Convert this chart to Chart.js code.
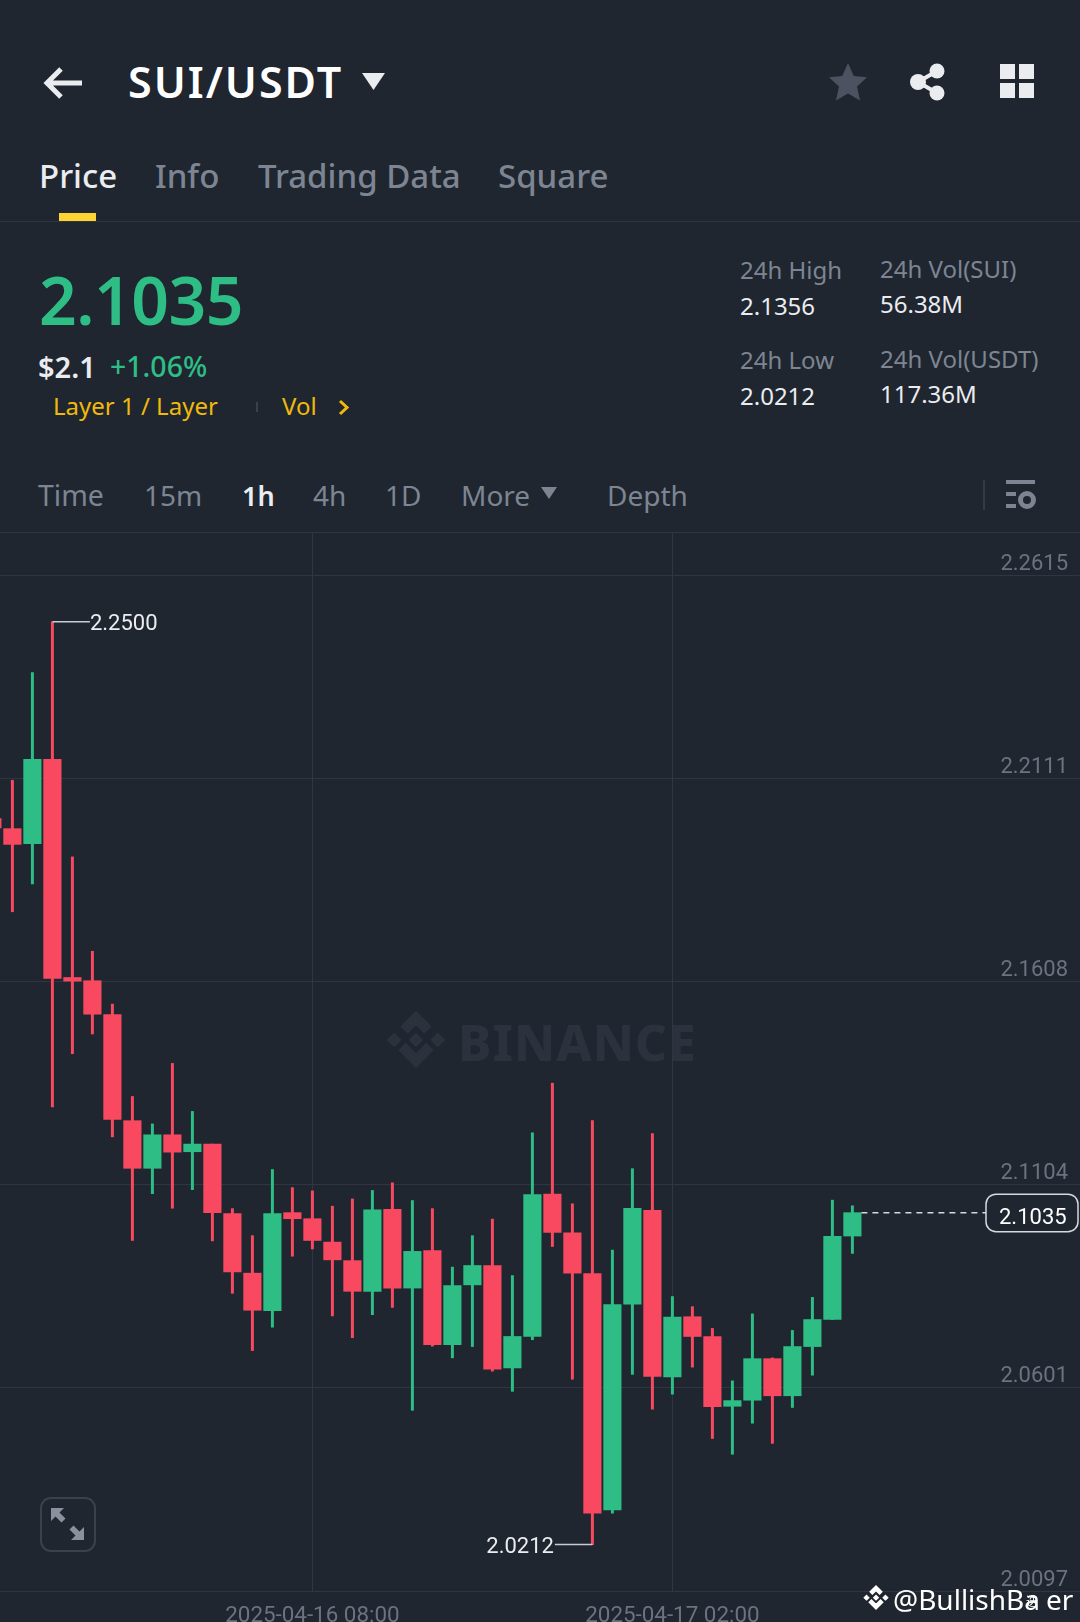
<!DOCTYPE html>
<html lang="en"><head><meta charset="utf-8"><title>SUI/USDT</title>
<script src="https://cdn.jsdelivr.net/npm/chart.js@4"></script>
<style>
html,body{margin:0;padding:0;background:#1f2630;width:1080px;height:1622px;overflow:hidden}
#ui{position:absolute;left:0;top:0;width:1080px;height:1622px;font-family:"Noto Sans",sans-serif}
#chart{position:absolute;left:0;top:0;z-index:2}
.t{position:absolute;white-space:nowrap;transform:translateY(-50%);line-height:1}
.g{color:#7d8592}.w{color:#eaecef}.y{color:#f0b90b}.up{color:#2ebd85}
.hr{position:absolute;left:0;width:1080px;height:1px;background:#2f3641}
svg{position:absolute;overflow:visible}
</style></head><body>
<div id="ui">
  <svg style="left:44px;top:66px" width="40" height="34" viewBox="0 0 40 34"><path d="M17 3L3 17l14 14M4 17h34" fill="none" stroke="#eaecef" stroke-width="5"/></svg>
  <div class="t w" style="left:128px;top:81px;font-size:43px;font-weight:600;color:#fff;letter-spacing:2px">SUI/USDT</div>
  <svg style="left:361px;top:72px" width="25" height="19"><path d="M1 1h23l-11.500 17z" fill="#eaecef"/></svg>
  <svg style="left:828px;top:62px" width="40" height="40" viewBox="0 0 40 40"><path d="M20 1l5.800 13 13.200 1.300-10 9.200 3 14-12-7-12 7 3-14-10-9.200 13.200-1.300z" fill="#4b5260"/></svg>
  <svg style="left:908px;top:62px" width="40" height="40" viewBox="0 0 40 40"><path d="M29 9L10 20l19 11" fill="none" stroke="#eaecef" stroke-width="4"/><circle cx="29" cy="9" r="7.500" fill="#eaecef"/><circle cx="10" cy="20" r="8" fill="#eaecef"/><circle cx="29" cy="31" r="7.500" fill="#eaecef"/></svg>
  <svg style="left:1000px;top:64px" width="35" height="35"><path d="M0 0h15v15H0zM19 0h15v15H19zM0 19h15v15H0zM19 19h15v15H19z" fill="#eaecef"/></svg>

  <div class="t" style="left:39px;top:175px;font-size:33px;font-weight:500;color:#eaecef">Price</div>
  <div class="t g" style="left:155px;top:175px;font-size:33px;font-weight:500">Info</div>
  <div class="t g" style="left:258px;top:175px;font-size:33px;font-weight:500">Trading Data</div>
  <div class="t g" style="left:498px;top:175px;font-size:33px;font-weight:500">Square</div>
  <div style="position:absolute;left:59px;top:213px;width:37px;height:8px;background:#fcd535"></div>
  <div class="hr" style="top:221px"></div>

  <div class="t up" style="left:39px;top:299px;font-size:66px;font-weight:600;letter-spacing:-.5px">2.1035</div>
  <div class="t" style="left:38px;top:366px;font-size:29px;font-weight:600;color:#eaecef">$2.1</div>
  <div class="t up" style="left:110px;top:366px;font-size:28.500px;font-weight:500">+1.06%</div>
  <div class="t y" style="left:53px;top:406px;font-size:24px">Layer 1 / Layer</div>
  <div style="position:absolute;left:256px;top:402px;width:2px;height:10px;background:#3a404c"></div>
  <div class="t y" style="left:282px;top:406px;font-size:24px">Vol</div>
  <svg style="left:338px;top:400px" width="12" height="15"><path d="M2 1l7 6.500-7 6.500" fill="none" stroke="#f0b90b" stroke-width="3"/></svg>

  <div class="t g" style="left:740px;top:270px;font-size:24px">24h High</div>
  <div class="t w" style="left:740px;top:306px;font-size:24px">2.1356</div>
  <div class="t g" style="left:880px;top:269px;font-size:24px">24h Vol(SUI)</div>
  <div class="t w" style="left:880px;top:304px;font-size:24px">56.38M</div>
  <div class="t g" style="left:740px;top:360px;font-size:24px">24h Low</div>
  <div class="t w" style="left:740px;top:396px;font-size:24px">2.0212</div>
  <div class="t g" style="left:880px;top:359px;font-size:24px">24h Vol(USDT)</div>
  <div class="t w" style="left:880px;top:394px;font-size:24px">117.36M</div>

  <div class="t g" style="left:38px;top:495px;font-size:28.500px">Time</div>
  <div class="t g" style="left:144px;top:495px;font-size:28px">15m</div>
  <div class="t" style="left:242px;top:495px;font-size:27px;font-weight:600;color:#eaecef">1h</div>
  <div class="t g" style="left:313px;top:495px;font-size:28px">4h</div>
  <div class="t g" style="left:385px;top:495px;font-size:28px">1D</div>
  <div class="t g" style="left:461px;top:495px;font-size:28px">More</div>
  <svg style="left:541px;top:487px" width="16" height="13"><path d="M0 0h16l-8 12z" fill="#7d8592"/></svg>
  <div class="t g" style="left:607px;top:495px;font-size:28px">Depth</div>
  <div style="position:absolute;left:983px;top:480px;width:2px;height:30px;background:#343a46"></div>
  <svg style="left:1006px;top:479px" width="30" height="32"><path d="M0 1h29v4H0zM0 13h10v4H0zM0 25h10v4H0z" fill="#7d8592"/><circle cx="21" cy="21" r="6.500" fill="none" stroke="#7d8592" stroke-width="5"/></svg>
  <div class="hr" style="top:532px"></div>

  <svg style="left:384px;top:1011px" width="64" height="64" viewBox="0 0 62 62"><path d="M31 2l13 13-5 5-8-8-8 8-5-5zM10 23l5 5-5 5-5-5zM52 23l5 5-5 5-5-5zM31 23l5 5-5 5-5-5zM16 38l5-5 10 10 10-10 5 5-15 15z" fill="#2c323d" stroke="#2c323d" stroke-width="3"/></svg>
  <div class="t" style="left:458px;top:1042px;font-size:50px;font-weight:800;color:#2c323d;letter-spacing:1px">BINANCE</div>

  <svg style="left:40px;top:1497px" width="56" height="55"><rect x="1" y="1" width="54" height="53" rx="10" fill="none" stroke="#3a404c" stroke-width="2"/><path d="M11 11h13l-4.500 4.500 6 6-4 4-6-6L11 24zM44 43H31l4.500-4.500-6-6 4-4 6 6L44 30z" fill="#8a919d"/></svg>

  <svg style="left:862px;top:1585px;z-index:3" width="28" height="28" viewBox="0 0 62 62"><path d="M31 2l13 13-5 5-8-8-8 8-5-5zM10 23l5 5-5 5-5-5zM52 23l5 5-5 5-5-5zM31 23l5 5-5 5-5-5zM16 38l5-5 10 10 10-10 5 5-15 15z" fill="#fff" stroke="#fff" stroke-width="3"/></svg>
  <div class="t" style="left:893px;top:1599px;font-size:28px;color:#fff;z-index:3">@BullishBa</div>
  <div class="t" style="left:1026px;top:1601px;font-size:12px;color:#fff;z-index:3;font-family:'Noto Sans CJK SC'">迭</div>
  <div class="t" style="left:1046px;top:1599px;font-size:28px;color:#fff;z-index:3">er</div>
</div>
<canvas id="chart" width="1080" height="1622"></canvas>
<script>
const categories = ["2025-04-15 16:00","2025-04-15 17:00","2025-04-15 18:00","2025-04-15 19:00","2025-04-15 20:00","2025-04-15 21:00","2025-04-15 22:00","2025-04-15 23:00","2025-04-16 00:00","2025-04-16 01:00","2025-04-16 02:00","2025-04-16 03:00","2025-04-16 04:00","2025-04-16 05:00","2025-04-16 06:00","2025-04-16 07:00","2025-04-16 08:00","2025-04-16 09:00","2025-04-16 10:00","2025-04-16 11:00","2025-04-16 12:00","2025-04-16 13:00","2025-04-16 14:00","2025-04-16 15:00","2025-04-16 16:00","2025-04-16 17:00","2025-04-16 18:00","2025-04-16 19:00","2025-04-16 20:00","2025-04-16 21:00","2025-04-16 22:00","2025-04-16 23:00","2025-04-17 00:00","2025-04-17 01:00","2025-04-17 02:00","2025-04-17 03:00","2025-04-17 04:00","2025-04-17 05:00","2025-04-17 06:00","2025-04-17 07:00","2025-04-17 08:00","2025-04-17 09:00","2025-04-17 10:00","2025-04-17 11:00"];
const opens  = [2.2012,2.1987,2.1950,2.2159,2.1618,2.1610,2.1526,2.1263,2.1145,2.1228,2.1186,2.1205,2.1033,2.0885,2.0792,2.1035,2.1020,2.0962,2.0916,2.0840,2.1043,2.0848,2.0941,2.0708,2.0856,2.0904,2.0650,2.0728,2.1081,2.0985,2.0884,2.0298,2.0808,2.1041,2.0628,2.0777,2.0728,2.0555,2.0570,2.0673,2.0581,2.0703,2.0770,2.0977];
const highs  = [2.2045,2.2107,2.2374,2.2500,2.1917,2.1683,2.1552,2.1323,2.1255,2.1405,2.1286,2.1205,2.1045,2.0978,2.1142,2.1097,2.1089,2.1051,2.1069,2.1090,2.1109,2.1065,2.1045,2.0900,2.0978,2.1019,2.0879,2.1233,2.1356,2.1057,2.1263,2.0942,2.1144,2.1231,2.0827,2.0802,2.0748,2.0618,2.0784,2.0675,2.0743,2.0825,2.1066,2.1052];
const lows   = [2.1950,2.1781,2.1850,2.1297,2.1429,2.1478,2.1223,2.0966,2.1082,2.1046,2.1092,2.0965,2.0835,2.0693,2.0751,2.0927,2.0945,2.0779,2.0725,2.0782,2.0800,2.0545,2.0704,2.0675,2.0703,2.0642,2.0592,2.0720,2.0951,2.0622,2.0212,2.0290,2.0634,2.0548,2.0585,2.0652,2.0475,2.0436,2.0513,2.0463,2.0552,2.0632,2.0770,2.0934];
const closes = [2.1989,2.1948,2.2159,2.1616,2.1609,2.1527,2.1266,2.1145,2.1228,2.1185,2.1205,2.1035,2.0888,2.0793,2.1033,2.1020,2.0966,2.0918,2.0840,2.1042,2.0848,2.0939,2.0708,2.0854,2.0904,2.0647,2.0728,2.1080,2.0986,2.0885,2.0290,2.0807,2.1046,2.0629,2.0776,2.0728,2.0554,2.0569,2.0673,2.0581,2.0703,2.0770,2.0976,2.1035];
const priceTicks = [2.2615,2.2111,2.1608,2.1104,2.0601,2.0097];
const timeTickIndexes = [16,34];
const lastPrice = 2.1035;
const extremes = [{index:3,value:2.2500,label:"2.2500",side:1,dy:3},{index:30,value:2.0212,label:"2.0212",side:-1,dy:3}];

const RED="#f84960", GREEN="#2ebd85", GRID="#2f3641", AXIS="#6b7280";
const colors = opens.map((o,i)=>closes[i]>=o?GREEN:RED);

const marks = {
  id:"marks",
  afterDatasetsDraw(chart){
    const {ctx,scales:{x,y}} = chart;
    ctx.save();
    ctx.font = "22px Roboto";
    ctx.textBaseline = "middle";
    extremes.forEach(e=>{
      const px = x.getPixelForValue(e.index), py = y.getPixelForValue(e.value);
      const end = px + e.side*37.500;
      ctx.strokeStyle="#c9ccd2"; ctx.lineWidth=1.500; ctx.setLineDash([]);
      ctx.beginPath(); ctx.moveTo(px,py); ctx.lineTo(end,py); ctx.stroke();
      ctx.fillStyle="#eaecef";
      ctx.textAlign = e.side>0?"left":"right";
      ctx.fillText(e.label,end+(e.side>0?0:-1),py+e.dy);
    });
    const ly = y.getPixelForValue(lastPrice);
    const lx = x.getPixelForValue(opens.length-1)+9;
    ctx.strokeStyle="#d5d8dd"; ctx.lineWidth=1.500; ctx.setLineDash([6,5]);
    ctx.beginPath(); ctx.moveTo(lx,ly); ctx.lineTo(986,ly); ctx.stroke();
    ctx.setLineDash([]);
    ctx.fillStyle="#1f2630"; ctx.strokeStyle="#d5d8dd";
    ctx.beginPath(); ctx.roundRect(986,ly-18.500,92,37.500,10); ctx.fill(); ctx.stroke();
    ctx.fillStyle="#fff"; ctx.textAlign="left";
    ctx.fillText(lastPrice.toFixed(4),999,ly+5.500);
    ctx.restore();
  }
};

new Chart(document.getElementById("chart"),{
  type:"bar",
  data:{datasets:[
    {label:"Wick",order:2,grouped:false,barThickness:2.300,data:highs.map((h,i)=>({x:i,y:[lows[i],h]})),backgroundColor:colors},
    {label:"Body",order:1,grouped:false,barThickness:17.500,minBarLength:2,data:opens.map((o,i)=>({x:i,y:[o,closes[i]]})),backgroundColor:colors}
  ]},
  options:{
    responsive:false,animation:false,devicePixelRatio:1,
    layout:{padding:{top:533,left:0,right:0,bottom:0}},
    plugins:{legend:{display:false},tooltip:{enabled:false}},
    scales:{
      x:{type:"linear",offset:false,min:0.38,max:54.38,
        afterBuildTicks(s){s.ticks=timeTickIndexes.map(v=>({value:v}));},
        afterFit(s){s.height=31;s.paddingLeft=0;s.paddingRight=0;},
        grid:{offset:false,color:GRID,lineWidth:1,drawTicks:false},border:{display:false},
        ticks:{autoSkip:false,maxRotation:0,padding:12,color:AXIS,font:{family:"Roboto",size:22.400},callback:v=>categories[v]}
      },
      y:{position:"right",min:2.0097,max:2.2720,
        afterBuildTicks(s){s.ticks=priceTicks.map(v=>({value:v}));},
        afterFit(s){s.width=0;s.paddingTop=0;s.paddingBottom=0;},
        grid:{color:GRID,lineWidth:1,drawTicks:false},border:{display:false},
        ticks:{mirror:true,crossAlign:"far",padding:-12,autoSkip:false,color:AXIS,font:{family:"Roboto",size:22,lineHeight:1.0},callback:v=>[v.toFixed(4),""]}
      }
    }
  },
  plugins:[marks]
});
</script>
</body></html>
